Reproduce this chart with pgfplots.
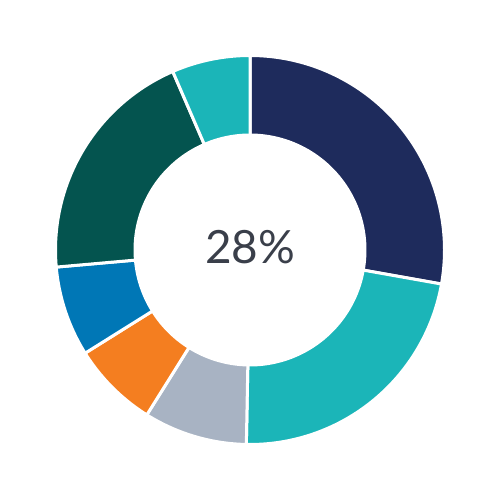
\documentclass[border=0pt]{standalone}
\usepackage{pgfplots}
\pgfplotsset{compat=1.18}
\usepackage{fontspec}
\setmainfont{Lato}
\definecolor{cNavy}{HTML}{1E2B5C}
\definecolor{cTeal}{HTML}{1BB5B8}
\definecolor{cGray}{HTML}{A8B3C3}
\definecolor{cOrange}{HTML}{F47E20}
\definecolor{cBlue}{HTML}{0077B6}
\definecolor{cGreen}{HTML}{04544F}
\definecolor{cText}{HTML}{3A3F4A}
% slice shares in percent, clockwise from 12 o'clock
% Navy 27.8, Teal 22.5, Gray 8.6, Orange 7.2, Blue 7.5, Green 19.9, Teal 6.5
\def\Rout{194.5}
\def\Rin{116.5}
\newcommand{\slice}[3]{%
  \addplot[fill=#3, draw=white, line width=3bp, line join=round, domain={(#1)*3.6}:{(#1+#2)*3.6}, samples=90]
    ({\Rout*sin(x)},{\Rout*cos(x)}) -- (axis cs:0,0) -- cycle;
}
\begin{document}
\begin{tikzpicture}
\begin{axis}[
  width=500bp, height=500bp, scale only axis,
  xmin=-250, xmax=250, ymin=-250, ymax=250,
  hide axis, clip=false,
]
\slice{0}{27.8}{cNavy}
\slice{27.8}{22.5}{cTeal}
\slice{50.3}{8.6}{cGray}
\slice{58.9}{7.2}{cOrange}
\slice{66.1}{7.5}{cBlue}
\slice{73.6}{19.9}{cGreen}
\slice{93.5}{6.5}{cTeal}
\addplot[fill=white, draw=none, domain=0:360, samples=180] ({\Rin*sin(x)},{\Rin*cos(x)}) -- cycle;
\node[anchor=base, text=cText, font=\fontsize{46}{50}\selectfont] at (axis cs:0,-13.3) {28\%};
\end{axis}
\path[use as bounding box] (current axis.south west) rectangle (current axis.north east);
\end{tikzpicture}
\end{document}
